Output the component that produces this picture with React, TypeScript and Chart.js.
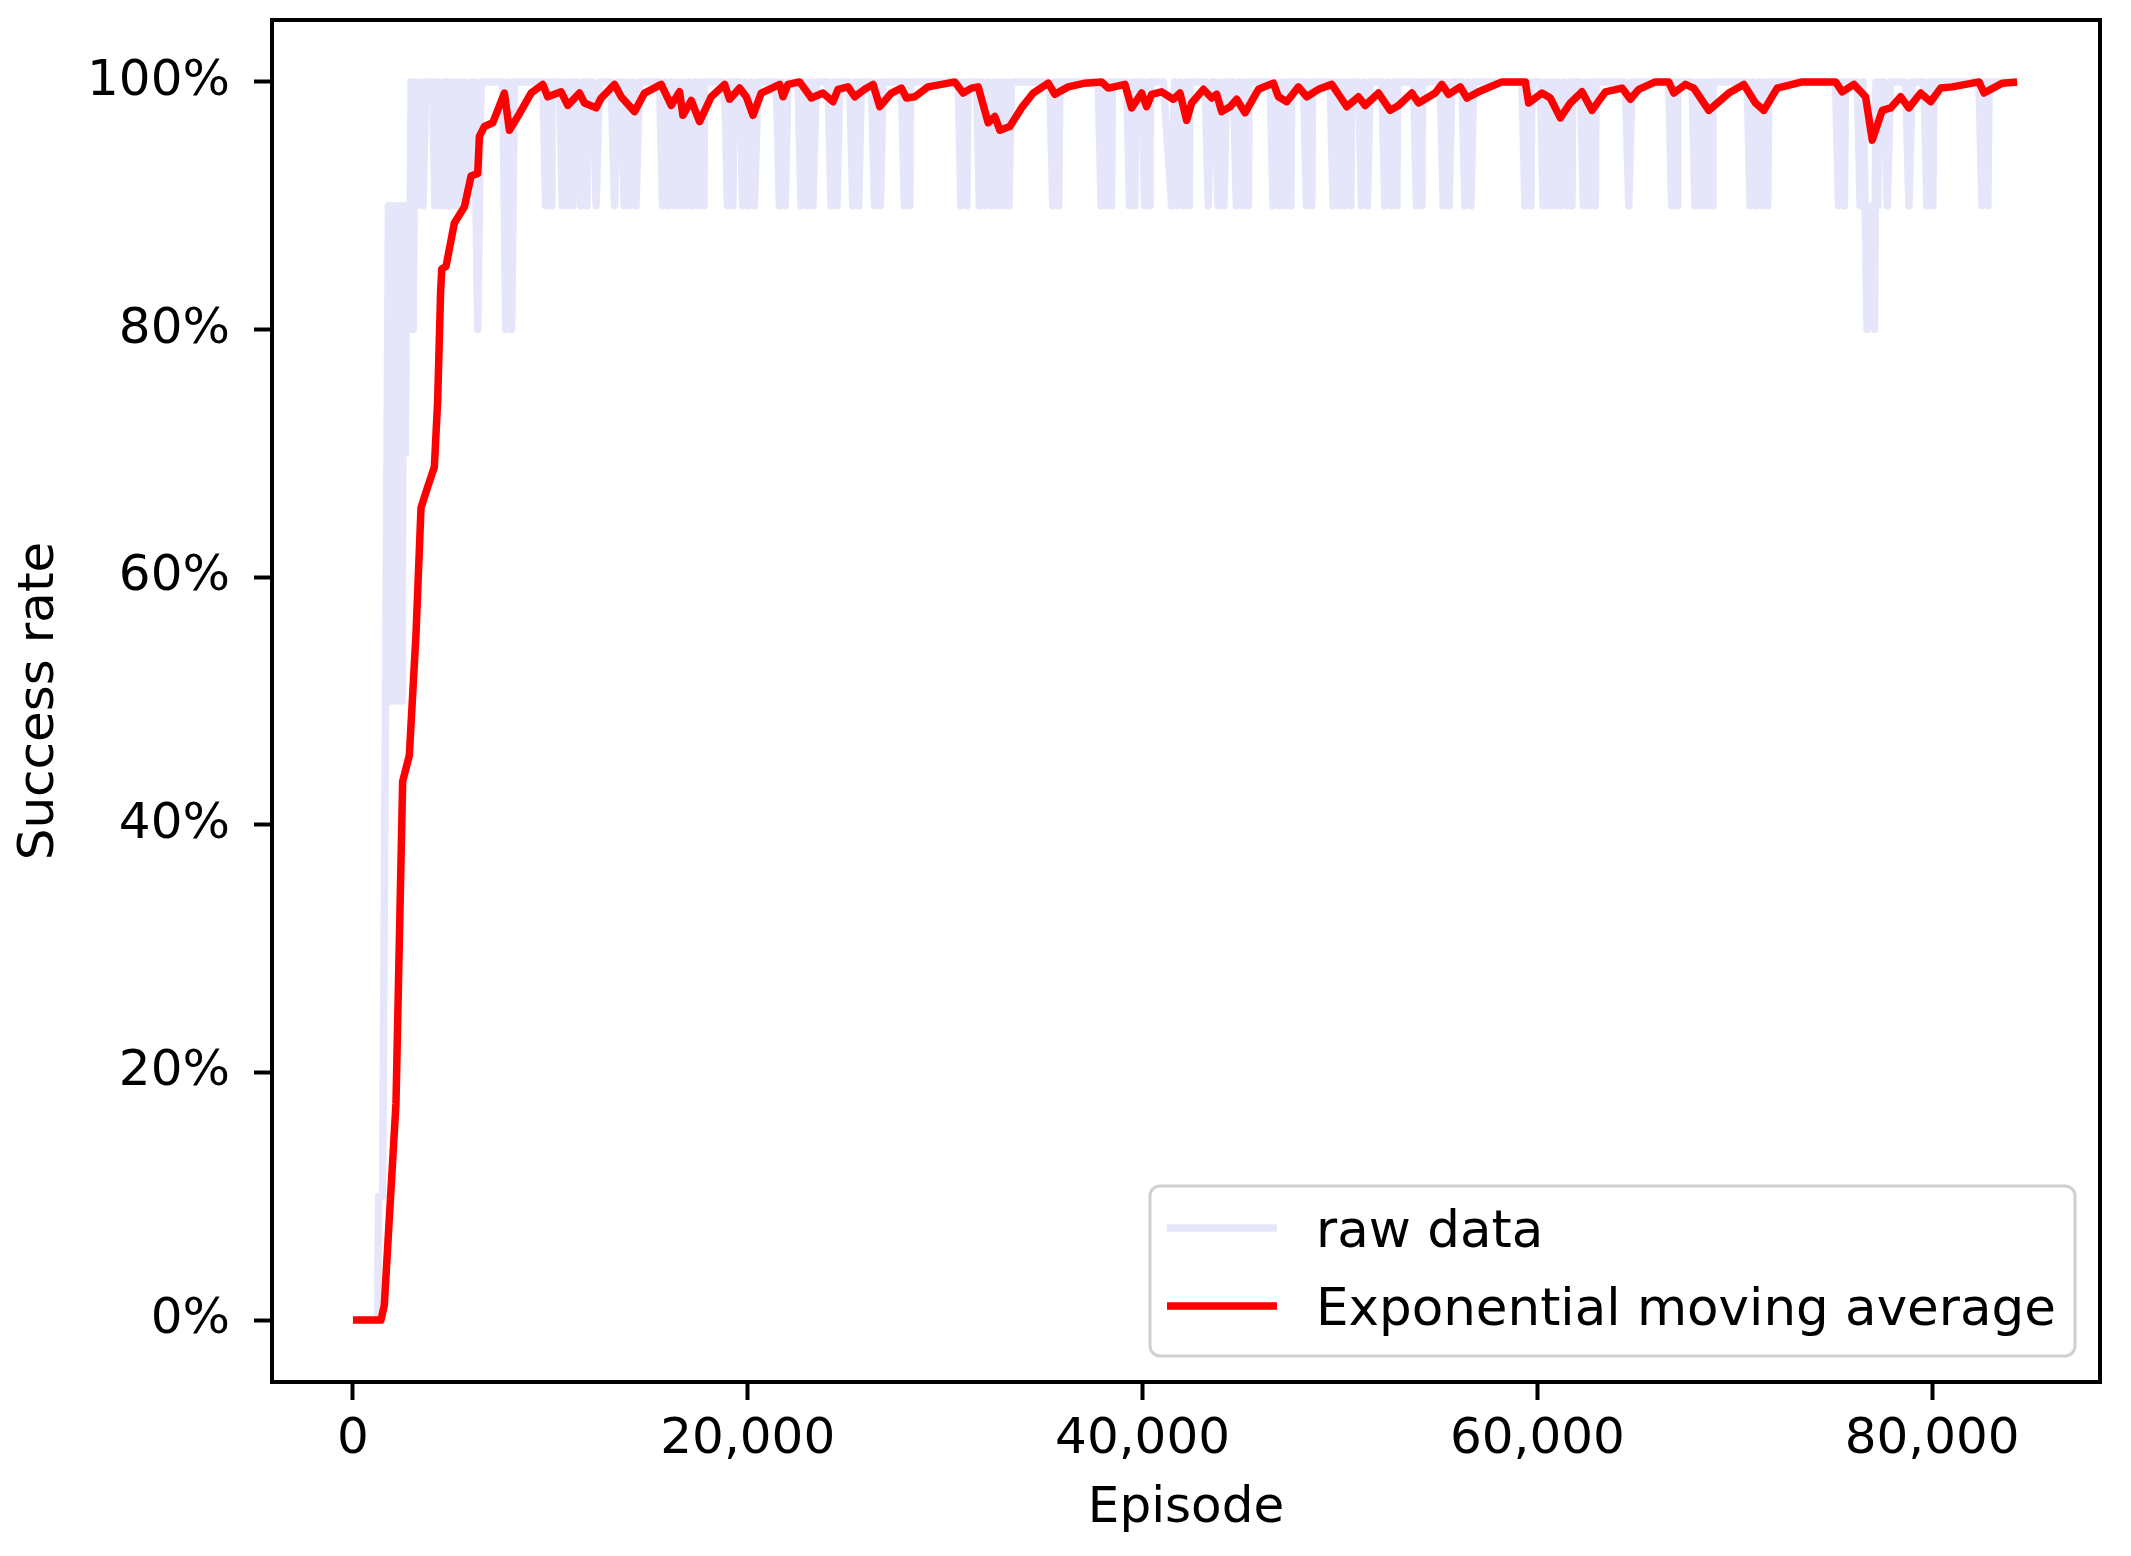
import React, { useEffect, useRef } from "react";
import { Chart, registerables } from "chart.js";

Chart.register(...registerables);

// Episode / success-rate pairs (raw evaluation results)
const rawPoints: [number, number][] = [
  [0, 0], [1250, 0], [1300, 0.1], [1500, 0.1], [1800, 0.9],
  [1900, 0.5], [2000, 0.9], [2100, 0.5], [2200, 0.9], [2300, 0.5], [2400, 0.9], [2500, 0.5], [2550, 0.9],
  [2650, 0.7], [2750, 0.9], [2850, 0.8], [2950, 1], [3050, 0.8], [3150, 1], [3250, 0.9], [3400, 1], [3550, 0.9], [3700, 1],
  [4040, 1], [4150, 0.9], [4300, 1], [4450, 0.9], [4600, 1], [4716, 0.9], [4760, 1], [4800, 1], [4900, 0.9], [5050, 1],
  [5200, 0.9], [5350, 1], [5500, 0.9], [5650, 1], [5800, 0.9], [5983, 1],
  [6152, 1], [6320, 0.8], [6490, 1],
  [7589, 1], [7740, 0.8], [7890, 1], [8040, 0.8], [8180, 1],
  [9617, 1], [9760, 0.9], [9900, 1], [10039, 0.9], [10080, 1],
  [10462, 1], [10600, 0.9], [10750, 1], [10900, 0.9], [11050, 1], [11138, 0.9], [11180, 1],
  [11391, 1], [11540, 0.9], [11700, 1], [11850, 0.9], [11898, 1],
  [12152, 1], [12320, 0.9], [12490, 1],
  [13082, 1], [13250, 0.9], [13419, 1],
  [13588, 1], [13740, 0.9], [13890, 1], [14040, 0.9], [14190, 1], [14340, 0.9], [14518, 1],
  [15532, 1], [15680, 0.9], [15830, 1], [15980, 0.9], [16130, 1], [16280, 0.9], [16430, 1], [16580, 0.9], [16730, 1],
  [16880, 0.9], [17030, 1], [17180, 0.9], [17330, 1], [17480, 0.9], [17630, 1], [17780, 0.9], [17813, 1],
  [18827, 1], [18970, 0.9], [19110, 1], [19250, 0.9], [19290, 1],
  [19588, 1], [19740, 0.9], [19890, 1], [20040, 0.9], [20190, 1], [20340, 0.9], [20517, 1],
  [21447, 1], [21600, 0.9], [21750, 1], [21900, 0.9], [22038, 1],
  [22545, 1], [22700, 0.9], [22850, 1], [23000, 0.9], [23150, 1], [23300, 0.9], [23475, 1],
  [24066, 1], [24220, 0.9], [24370, 1], [24520, 0.9], [24658, 1],
  [25165, 1], [25320, 0.9], [25470, 1], [25620, 0.9], [25756, 1],
  [26263, 1], [26420, 0.9], [26570, 1], [26720, 0.9], [26855, 1],
  [27784, 1], [27930, 0.9], [28080, 1], [28207, 0.9], [28250, 1],
  [30657, 1], [30800, 0.9], [30950, 1], [31100, 0.9], [31164, 1],
  [31586, 1], [31730, 0.9], [31880, 1], [32030, 0.9], [32180, 1], [32330, 0.9], [32480, 1], [32630, 0.9], [32780, 1],
  [32930, 0.9], [33080, 1], [33230, 0.9], [33361, 1],
  [35305, 1], [35450, 0.9], [35600, 1], [35750, 0.9], [35812, 1],
  [37755, 1], [37900, 0.9], [38050, 1], [38200, 0.9], [38350, 1], [38431, 0.9], [38470, 1],
  [39192, 1], [39340, 0.9], [39490, 1], [39614, 0.9], [39650, 1],
  [39952, 1], [40100, 0.9], [40250, 1], [40375, 0.9], [40410, 1],
  [41051, 1], [41474, 0.9], [41620, 1], [41770, 0.9], [41920, 1], [42070, 0.9], [42220, 1], [42370, 0.9], [42403, 1],
  [43163, 1], [43330, 0.9], [43501, 1],
  [43670, 1], [43820, 0.9], [43970, 1], [44120, 0.9], [44262, 1],
  [44600, 1], [44750, 0.9], [44900, 1], [45050, 0.9], [45200, 1], [45360, 0.9], [45400, 1],
  [46459, 1], [46610, 0.9], [46760, 1], [46910, 0.9], [47060, 1], [47210, 0.9], [47360, 1], [47510, 0.9], [47557, 1],
  [48149, 1], [48300, 0.9], [48450, 1], [48571, 0.9], [48610, 1],
  [49501, 1], [49650, 0.9], [49800, 1], [49950, 0.9], [50100, 1], [50250, 0.9], [50400, 1], [50550, 0.9], [50599, 1],
  [50937, 1], [51090, 0.9], [51240, 1], [51390, 0.9], [51529, 1],
  [52120, 1], [52270, 0.9], [52420, 1], [52570, 0.9], [52720, 1], [52881, 0.9], [52920, 1],
  [53726, 1], [53870, 0.9], [54020, 1], [54148, 0.9], [54190, 1],
  [55078, 1], [55230, 0.9], [55380, 1], [55530, 0.9], [55669, 1],
  [56176, 1], [56330, 0.9], [56480, 1], [56630, 0.9], [56768, 1],
  [59218, 1], [59370, 0.9], [59520, 1], [59670, 0.9], [59725, 1],
  [60148, 1], [60290, 0.9], [60440, 1], [60590, 0.9], [60740, 1], [60890, 0.9], [61040, 1], [61190, 0.9], [61340, 1],
  [61490, 0.9], [61640, 1], [61753, 0.9], [61790, 1],
  [62176, 1], [62330, 0.9], [62480, 1], [62630, 0.9], [62780, 1], [62936, 0.9], [62970, 1],
  [64457, 1], [64630, 0.9], [64795, 1],
  [66654, 1], [66800, 0.9], [66950, 1], [67077, 0.9], [67110, 1],
  [67837, 1], [67980, 0.9], [68130, 1], [68280, 0.9], [68430, 1], [68580, 0.9], [68730, 1], [68851, 0.9], [68890, 1],
  [70626, 1], [70770, 0.9], [70920, 1], [71070, 0.9], [71220, 1], [71370, 0.9], [71520, 1], [71670, 0.9], [71724, 1],
  [75104, 1], [75250, 0.9], [75400, 1], [75550, 0.9], [75611, 1],
  [76203, 1], [76350, 0.9], [76500, 1], [76700, 0.8], [76900, 0.9], [77080, 0.8], [77150, 1], [77250, 0.9], [77301, 1],
  [77555, 1], [77720, 0.9], [77893, 1],
  [78653, 1], [78820, 0.9], [78991, 1],
  [79583, 1], [79730, 0.9], [79880, 1], [80030, 0.9], [80090, 1],
  [82371, 1], [82520, 0.9], [82670, 1], [82820, 0.9], [82878, 1],
  [84300, 1],
];

// Exponential moving average of the success rate
const emaPoints: [number, number][] = [
  [0, 0], [1420, 0], [1588, 0.012], [2180, 0.175], [2518, 0.435], [2856, 0.456], [3194, 0.554], [3448, 0.656],
  [3786, 0.673], [4124, 0.689], [4293, 0.743], [4440, 0.83], [4500, 0.849], [4715, 0.851], [5138, 0.886], [5645, 0.899],
  [5983, 0.924], [6321, 0.926], [6405, 0.956], [6659, 0.964], [7081, 0.967], [7673, 0.991], [7926, 0.961], [8349, 0.972],
  [9025, 0.991], [9616, 0.998], [9869, 0.988], [10545, 0.992], [10884, 0.981], [11475, 0.991], [11729, 0.983],
  [12320, 0.979], [12574, 0.987], [13250, 0.998], [13588, 0.988], [14264, 0.976], [14771, 0.991], [15616, 0.998],
  [16123, 0.981], [16545, 0.992], [16714, 0.973], [17137, 0.985], [17559, 0.968], [18151, 0.988], [18827, 0.998],
  [19081, 0.986], [19588, 0.995], [19926, 0.988], [20264, 0.973], [20686, 0.991], [21616, 0.998], [21785, 0.988],
  [22038, 0.998], [22630, 1.0], [23221, 0.987], [23813, 0.991], [24320, 0.984], [24573, 0.994], [25080, 0.996],
  [25418, 0.988], [25925, 0.994], [26348, 0.998], [26686, 0.98], [27277, 0.991], [27784, 0.995], [28038, 0.987],
  [28460, 0.988], [29136, 0.996], [29812, 0.998], [30488, 1.0], [30911, 0.991], [31333, 0.995], [31671, 0.996],
  [32178, 0.967], [32516, 0.972], [32770, 0.961], [33277, 0.964], [33868, 0.979], [34460, 0.991], [35220, 0.999],
  [35558, 0.99], [36234, 0.996], [37079, 0.999], [37924, 1.0], [38262, 0.995], [39107, 0.998], [39445, 0.979],
  [39952, 0.991], [40206, 0.98], [40459, 0.99], [40966, 0.992], [41558, 0.986], [41896, 0.991], [42234, 0.969],
  [42487, 0.983], [43079, 0.994], [43501, 0.987], [43755, 0.99], [44008, 0.976], [44431, 0.98], [44769, 0.986],
  [45191, 0.975], [45867, 0.994], [46628, 0.999], [46881, 0.988], [47304, 0.984], [47895, 0.996], [48318, 0.988],
  [48909, 0.994], [49585, 0.998], [50008, 0.988], [50346, 0.98], [50937, 0.988], [51275, 0.981], [51951, 0.991],
  [52543, 0.977], [52965, 0.981], [53641, 0.991], [53979, 0.983], [54824, 0.991], [55162, 0.998], [55500, 0.99],
  [56092, 0.996], [56430, 0.987], [57021, 0.992], [58204, 1.0], [59387, 1.0], [59556, 0.983], [60232, 0.991],
  [60655, 0.987], [61162, 0.971], [61669, 0.983], [62260, 0.992], [62767, 0.977], [63443, 0.992], [64288, 0.995],
  [64711, 0.986], [65133, 0.994], [65978, 1.0], [66654, 1.0], [66908, 0.991], [67499, 0.998], [67922, 0.995],
  [68682, 0.977], [69696, 0.991], [70457, 0.998], [71048, 0.983], [71471, 0.977], [72147, 0.995], [73414, 1.0],
  [75104, 1.0], [75442, 0.992], [76034, 0.998], [76625, 0.988], [76963, 0.953], [77470, 0.977], [77893, 0.979],
  [78400, 0.988], [78822, 0.979], [79414, 0.991], [79921, 0.984], [80428, 0.995], [81019, 0.996], [82371, 1.0],
  [82625, 0.991], [83554, 0.999], [84300, 1.0],
];

const xTickValues = [0, 20000, 40000, 60000, 80000];
const yTickValues = [0, 0.2, 0.4, 0.6, 0.8, 1.0];
const seriesLabels = ["raw data", "Exponential moving average"];
const seriesColors = ["#e6e6fa", "#ff0000"];
const xAxisTitle = "Episode";
const yAxisTitle = "Success rate";

const W = 2131;
const H = 1556;
const FONT = "'DejaVu Sans', 'Liberation Sans', sans-serif";
const FS = 50;
const LEGEND_FS = 51.5;

const framePlugin = {
  id: "frame",
  afterDatasetsDraw(chart: any) {
    const { ctx, chartArea } = chart;
    const { left, right, top, bottom } = chartArea;
    ctx.save();
    ctx.strokeStyle = "#000";
    ctx.lineWidth = 4;
    ctx.strokeRect(left, top, right - left, bottom - top);
    ctx.restore();
  },
};

const legendPlugin = {
  id: "mplLegend",
  afterDraw(chart: any) {
    const { ctx, chartArea } = chart;
    const boxRight = chartArea.right - 25;
    const boxBottom = chartArea.bottom - 26;
    const boxW = 925;
    const boxH = 170;
    const x0 = boxRight - boxW;
    const y0 = boxBottom - boxH;
    ctx.save();
    ctx.beginPath();
    if ((ctx as any).roundRect) {
      (ctx as any).roundRect(x0, y0, boxW, boxH, 10);
    } else {
      ctx.rect(x0, y0, boxW, boxH);
    }
    ctx.fillStyle = "rgba(255,255,255,0.8)";
    ctx.fill();
    ctx.strokeStyle = "#d0d0d0";
    ctx.lineWidth = 3;
    ctx.stroke();
    const ds = chart.data.datasets;
    const rows = [42, 120];
    ds.forEach((d: any, i: number) => {
      const y = y0 + rows[i];
      ctx.beginPath();
      ctx.moveTo(x0 + 17, y);
      ctx.lineTo(x0 + 127, y);
      ctx.strokeStyle = d.borderColor;
      ctx.lineWidth = 7.5;
      ctx.lineCap = "butt";
      ctx.stroke();
      ctx.fillStyle = "#000";
      ctx.font = `${LEGEND_FS}px ${FONT}`;
      ctx.textBaseline = "alphabetic";
      ctx.textAlign = "left";
      ctx.fillText(d.label, x0 + 166, y + 19);
    });
    ctx.restore();
  },
};

export default function App() {
  const ref = useRef<HTMLCanvasElement | null>(null);

  useEffect(() => {
    if (!ref.current) return;
    const chart = new Chart(ref.current, {
      type: "line",
      data: {
        datasets: [
          {
            label: seriesLabels[0],
            data: rawPoints.map(([x, y]) => ({ x, y })),
            borderColor: seriesColors[0],
            backgroundColor: seriesColors[0],
            borderWidth: 7.5,
            pointRadius: 0,
            tension: 0,
            fill: false,
            borderJoinStyle: "round",
            borderCapStyle: "butt",
            order: 1,
          },
          {
            label: seriesLabels[1],
            data: emaPoints.map(([x, y]) => ({ x, y })),
            borderColor: seriesColors[1],
            backgroundColor: seriesColors[1],
            borderWidth: 7.5,
            pointRadius: 0,
            tension: 0,
            fill: false,
            borderJoinStyle: "round",
            borderCapStyle: "butt",
            order: 0,
          },
        ],
      },
      options: {
        animation: false,
        responsive: false,
        devicePixelRatio: 1,
        events: [],
        layout: { padding: { left: 0, top: 20, right: 31, bottom: 0 } },
        plugins: {
          legend: { display: false },
          tooltip: { enabled: false },
          title: { display: false },
        },
        scales: {
          x: {
            type: "linear",
            min: -4100,
            max: 88500,
            afterBuildTicks: (scale: any) => {
              scale.ticks = xTickValues.map((v) => ({ value: v }));
            },
            afterFit: (scale: any) => {
              scale.height = 174;
              scale.paddingLeft = 0;
              scale.paddingRight = 0;
            },
            grid: {
              display: true,
              drawOnChartArea: false,
              drawTicks: true,
              tickLength: 18,
              tickWidth: 4,
              tickColor: "#000",
            },
            border: { display: false },
            ticks: {
              font: { family: FONT, size: FS },
              color: "#000",
              padding: 10,
              maxRotation: 0,
              autoSkip: false,
              callback: (v: any) => Number(v).toLocaleString("en-US"),
            },
            title: {
              display: true,
              text: xAxisTitle,
              font: { family: FONT, size: FS },
              color: "#000",
              padding: { top: 0, bottom: 17 },
            },
          },
          y: {
            type: "linear",
            min: -0.05,
            max: 1.05,
            afterBuildTicks: (scale: any) => {
              scale.ticks = yTickValues.map((v) => ({ value: v }));
            },
            afterFit: (scale: any) => {
              scale.width = 272;
              scale.paddingTop = 0;
              scale.paddingBottom = 0;
            },
            grid: {
              display: true,
              drawOnChartArea: false,
              drawTicks: true,
              tickLength: 18,
              tickWidth: 4,
              tickColor: "#000",
            },
            border: { display: false },
            ticks: {
              font: { family: FONT, size: FS },
              color: "#000",
              padding: 24,
              autoSkip: false,
              callback: (v: any) => `${Math.round(Number(v) * 100)}%`,
            },
            title: {
              display: true,
              text: yAxisTitle,
              font: { family: FONT, size: FS },
              color: "#000",
              padding: { top: 10, bottom: 0 },
            },
          },
        },
      },
      plugins: [framePlugin, legendPlugin],
    } as any);
    return () => chart.destroy();
  }, []);

  return (
    <div style={{ position: "fixed", left: 0, top: 0, width: W, height: H, background: "#fff" }}>
      <canvas ref={ref} width={W} height={H} style={{ width: W, height: H, display: "block" }} />
    </div>
  );
}
